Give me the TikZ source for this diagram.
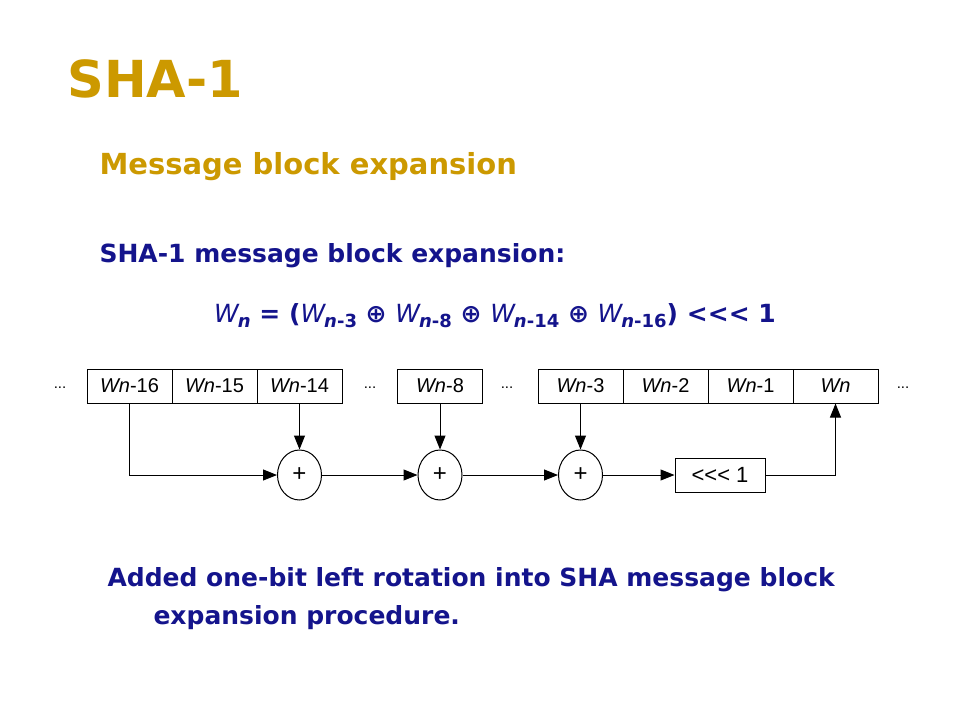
\documentclass[tikz,border=0pt]{standalone}
\usepackage{fontspec}
\setmainfont{DejaVu Sans}
\newfontfamily\arialf{Liberation Sans}
\usetikzlibrary{arrows.meta,shapes.geometric}
\definecolor{gold}{RGB}{204,153,0}
\definecolor{navy}{RGB}{20,20,140}
\newcommand{\wsub}[1]{$\mathit{W}$\kern-1pt\raisebox{-5pt}{\fontsize{18}{20}\selectfont #1}}
\begin{document}
\begin{tikzpicture}[x=1pt,y=-1pt,
  cell/.style={draw,line width=1pt,minimum width=85pt,minimum height=34pt,inner sep=0pt,font=\arialf\fontsize{20}{22}\selectfont},
  xo/.style={draw,ellipse,line width=1pt,minimum width=44pt,minimum height=50pt,inner sep=0pt,font=\arialf\fontsize{24}{26}\selectfont},
  dts/.style={font=\arialf\fontsize{15}{17}\selectfont},
  ln/.style={line width=1pt},
  ar/.style={ln,-{Triangle[length=14pt,width=11pt]}}]
\useasboundingbox[fill=white] (0,0) rectangle (960,720);
\node[anchor=base west,text=gold,font=\fontsize{51}{55}\selectfont\bfseries] (title) at (64,97) {SHA-1};
\node[anchor=base west,text=gold,font=\fontsize{29}{32}\selectfont\bfseries] (sub) at (96,174) {Message block expansion};
\node[anchor=base west,text=navy,font=\fontsize{25}{28}\selectfont\bfseries] (h) at (96,262) {SHA-1 message block expansion:};
\node[anchor=base,text=navy,font=\fontsize{25}{28}\selectfont\bfseries] (f) at (495,322) {\wsub{\itshape n} = (\wsub{\textit{n}-3} ⊕ \wsub{\textit{n}-8} ⊕ \wsub{\textit{n}-14} ⊕ \wsub{\textit{n}-16}) {<}{<}{<} 1};
\node[anchor=base west,text=navy,font=\fontsize{25}{28}\selectfont\bfseries] (b1) at (104,586) {Added one-bit left rotation into SHA message block};
\node[anchor=base west,text=navy,font=\fontsize{25}{28}\selectfont\bfseries] (b2) at (150,624) {expansion procedure.};
\node[cell] (c16) at (129.5,386) {\textit{Wn}-16};
\node[cell] (c15) at (214.5,386) {\textit{Wn}-15};
\node[cell] (c14) at (299.5,386) {\textit{Wn}-14};
\node[cell] (c8) at (440,386) {\textit{Wn}-8};
\node[cell] (c3) at (580.5,386) {\textit{Wn}-3};
\node[cell] (c2) at (665.5,386) {\textit{Wn}-2};
\node[cell] (c1) at (750.5,386) {\textit{Wn}-1};
\node[cell] (c0) at (835.5,386) {\textit{Wn}};
\node[dts] (d1) at (60,388) {...};
\node[dts] (d2) at (370,388) {...};
\node[dts] (d3) at (507,388) {...};
\node[dts] (d4) at (903,388) {...};
\node[xo] (x1) at (299.5,475) {+};
\node[xo] (x2) at (440,475) {+};
\node[xo] (x3) at (580.5,475) {+};
\node[cell,minimum width=90pt,font=\arialf\fontsize{22}{24}\selectfont] (rot) at (720,475) {<<< 1};
\draw[ar] (c16.south) |- (x1.west);
\draw[ar] (c14.south) -- (x1.north);
\draw[ar] (c8.south) -- (x2.north);
\draw[ar] (c3.south) -- (x3.north);
\draw[ar] (x1.east) -- (x2.west);
\draw[ar] (x2.east) -- (x3.west);
\draw[ar] (x3.east) -- (rot.west);
\draw[ar] (rot.east) -| (c0.south);
\end{tikzpicture}
\end{document}
